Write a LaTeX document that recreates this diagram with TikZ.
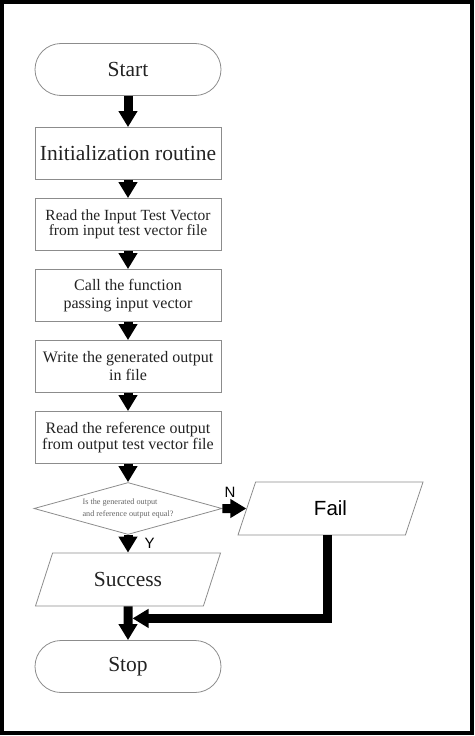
\documentclass[tikz,border=0pt]{standalone}
\usepackage{fontspec}
\setmainfont{Liberation Serif}
\setsansfont{Liberation Sans}
\usetikzlibrary{shapes.geometric, positioning, arrows.meta}
\definecolor{edgegray}{HTML}{8C8C8C}
\definecolor{inkgray}{HTML}{222222}
\tikzset{
	>={Triangle[length=16pt, width=18pt]},
	node distance=71pt,
	every node/.style={text=inkgray},
	term/.style={draw=edgegray, line width=0.8pt, rounded corners=26pt, minimum width=186pt, minimum height=52pt, font=\fontsize{21.5}{24}\selectfont},
	box/.style={draw=edgegray, line width=0.8pt, minimum width=186pt, minimum height=52pt, align=center, font=\fontsize{16}{18}\selectfont},
	io/.style={trapezium, trapezium left angle=51, trapezium right angle=129, trapezium stretches body, draw=edgegray, line width=0.8pt, minimum width=185pt, minimum height=53pt, font=\fontsize{21.5}{24}\selectfont},
	decision/.style={diamond, aspect=3.6, draw=edgegray, line width=0.8pt, minimum width=188pt, minimum height=52pt, inner sep=0pt, align=left, text=black!60, font=\fontsize{8.2}{11.5}\selectfont},
	flow/.style={->, line width=9pt, draw=black},
	lbl/.style={inner sep=0pt, text=black, font=\sffamily\fontsize{15}{18}\selectfont}
}

\begin{document}
\begin{tikzpicture}
	\useasboundingbox (0,0) rectangle (474pt,-736pt);
	\draw[line width=4.5pt] (1.75pt,-2pt) rectangle (472pt,-733pt);

	\node[term] (start) at (128pt,-69.5pt) {Start};
	\node[box, below of=start, node distance=84pt, font=\fontsize{21.5}{24}\selectfont] (init) {Initialization routine};
	\node[box, below of=init, font=\fontsize{15.5}{14}\selectfont] (read) {Read the Input Test Vector\\from input test vector file};
	\node[box, below of=read] (call) {Call the function\\passing input vector};
	\node[box, below of=call] (write) {Write the generated output\\in file};
	\node[box, below of=write, font=\fontsize{16}{14}\selectfont] (readref) {Read the reference output\\from output test vector file};
	\node[decision, below of=readref] (dec) {Is the generated output\\and reference output equal?};
	\node[io, right of=dec, node distance=202.5pt, text=black, font=\sffamily\fontsize{20.5}{24}\selectfont] (fail) {Fail};
	\node[io, below of=dec] (success) {Success};
	\node[term, below of=success, node distance=87pt] (stop) {Stop};
	\coordinate (merge) at ([xshift=4.5pt, yshift=-12pt]success.south);

	\draw[flow]
	(start) edge (init)
	(init) edge (read)
	(read) edge (call)
	(call) edge (write)
	(write) edge (readref)
	(readref) edge (dec)
	(dec) edge node[lbl, pos=0.32, above=7pt] {N} (fail)
	(dec) edge node[lbl, right=12pt] {Y} (success)
	(success) edge (stop)
	;
	\draw[flow] ([xshift=-3pt]fail.south) |- (merge);
\end{tikzpicture}
\end{document}
